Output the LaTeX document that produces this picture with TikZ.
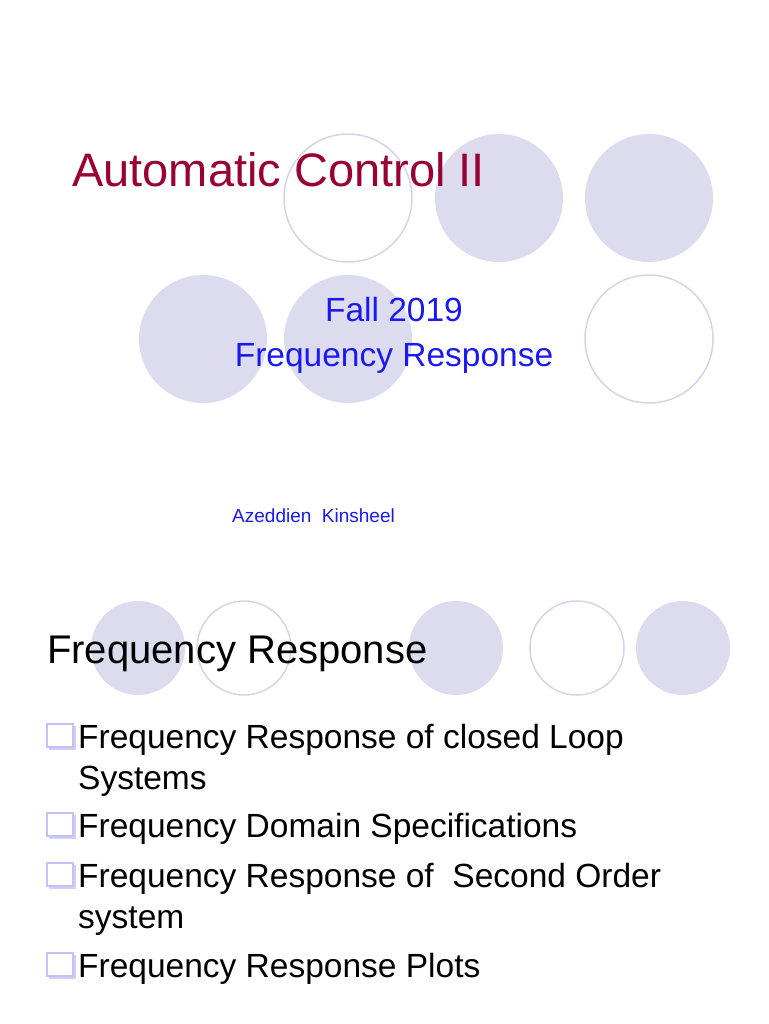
\documentclass[tikz,border=0pt]{standalone}
\usepackage{fontspec}
\setmainfont{Liberation Sans}
\definecolor{lav}{HTML}{DCDCEE}
\definecolor{lavline}{HTML}{D4D4EA}
\definecolor{dred}{HTML}{990033}
\definecolor{tblue}{HTML}{1A1AF0}
\begin{document}
\begin{tikzpicture}[x=1pt,y=-1pt,
  fc/.style={fill=lav,draw=none},
  oc/.style={draw=lavline,line width=1.5pt,fill=white},
  txt/.style={inner sep=0pt,anchor=base west},
  bl/.style={txt,font=\fontsize{33.5}{38}\selectfont},
  bx/.style={draw=lav!70!blue!60,line width=1.2pt,fill=white}]
\useasboundingbox (0,0) rectangle (768,1024);
\fill[white] (0,0) rectangle (768,1024);
% top slide circles
\draw[oc] (348,198) circle (64);
\fill[fc] (499,198) circle (64);
\fill[fc] (649,198) circle (64);
\fill[fc] (203,339) circle (64);
\fill[fc] (348,339) circle (64);
\draw[oc] (649,339) circle (64);
\node[txt,text=dred,font=\fontsize{47}{54}\selectfont] (t) at (72,187) {Automatic Control II};
\node[inner sep=0pt,anchor=base,text=tblue,font=\fontsize{33.5}{38}\selectfont] (f) at (394,321) {Fall 2019};
\node[inner sep=0pt,anchor=base,text=tblue,font=\fontsize{33.5}{38}\selectfont] (fr) at (394,366) {Frequency Response};
\node[txt,text=tblue,font=\fontsize{19}{22}\selectfont] (a) at (232,522) {Azeddien\ \ Kinsheel};
% bottom slide circles
\fill[fc] (138,648) circle (47);
\draw[oc] (244,648) circle (47);
\fill[fc] (456,648) circle (47);
\draw[oc] (577,648) circle (47);
\fill[fc] (683,648) circle (47);
\node[txt,font=\fontsize{40}{46}\selectfont] (h) at (47,663) {Frequency Response};
\foreach \yy in {748,837,887,977}{
  \fill[lav!80!blue!60] (49,\yy-22) rectangle (76,\yy+2);
  \draw[bx] (47,\yy-24) rectangle (73,\yy-1);
}
\node[bl] (b1) at (78,748) {Frequency Response of closed Loop};
\node[bl] (b1b) at (78,789) {Systems};
\node[bl] (b2) at (78,837) {Frequency Domain Specifications};
\node[bl] (b3) at (78,887) {Frequency Response of\ \ Second Order};
\node[bl] (b3b) at (78,928) {system};
\node[bl] (b4) at (78,977) {Frequency Response Plots};
\end{tikzpicture}
\end{document}
